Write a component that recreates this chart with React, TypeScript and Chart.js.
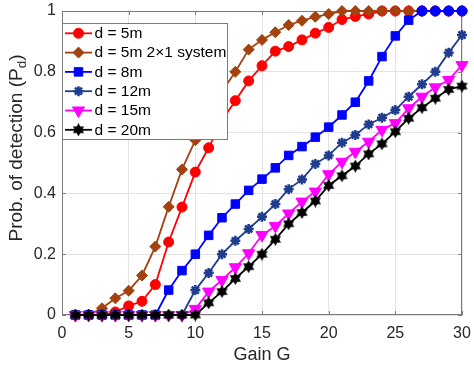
import React, { useEffect, useRef } from 'react';
import { Chart, registerables } from 'chart.js';
import { drawPoint } from 'chart.js/helpers';

Chart.register(...registerables);

// ---------- data ----------
const gain = [1, 2, 3, 4, 5, 6, 7, 8, 9, 10, 11, 12, 13, 14, 15, 16, 17, 18, 19, 20, 21, 22, 23, 24, 25, 26, 27, 28, 29, 30];

const pd5m = [0, 0, 0, 0.01, 0.03, 0.045, 0.1, 0.24, 0.355, 0.47, 0.55, 0.64, 0.705, 0.77, 0.82, 0.868, 0.883, 0.905, 0.927, 0.946, 0.972, 0.982, 0.99, 1, 1, 1, 1, 1, 1, 1];
const pd5m2x1 = [0, 0, 0.022, 0.055, 0.08, 0.13, 0.225, 0.356, 0.479, 0.575, 0.66, 0.735, 0.8, 0.873, 0.905, 0.93, 0.954, 0.968, 0.981, 0.99, 1, 1, 1, 1, 1, 1, 1, 1, 1, 1];
const pd8m = [0, 0, 0, 0, 0, 0, 0, 0.082, 0.146, 0.2, 0.262, 0.32, 0.365, 0.41, 0.447, 0.484, 0.525, 0.554, 0.585, 0.618, 0.658, 0.7, 0.77, 0.85, 0.918, 0.97, 1, 1, 1, 1];
const pd12m = [0, 0, 0, 0, 0, 0, 0, 0, 0, 0.082, 0.138, 0.2, 0.244, 0.283, 0.323, 0.365, 0.414, 0.446, 0.497, 0.525, 0.567, 0.592, 0.627, 0.649, 0.674, 0.718, 0.759, 0.8, 0.863, 0.921];
const pd15m = [0, 0, 0, 0, 0, 0, 0, 0, 0, 0.02, 0.077, 0.115, 0.157, 0.203, 0.263, 0.293, 0.334, 0.373, 0.406, 0.463, 0.504, 0.537, 0.57, 0.609, 0.631, 0.68, 0.718, 0.749, 0.773, 0.822];
const pd20m = [0, 0, 0, 0, 0, 0, 0, 0, 0, 0, 0.04, 0.077, 0.12, 0.159, 0.2, 0.249, 0.3, 0.337, 0.375, 0.426, 0.458, 0.49, 0.53, 0.563, 0.603, 0.647, 0.682, 0.713, 0.742, 0.753];

const seriesLabels = ['d = 5m', 'd = 5m 2\u00d71 system', 'd = 8m', 'd = 12m', 'd = 15m', 'd = 20m'];
const seriesValues = [pd5m, pd5m2x1, pd8m, pd12m, pd15m, pd20m];

const xTicks = [0, 5, 10, 15, 20, 25, 30];
const yTicks = [0, 0.2, 0.4, 0.6, 0.8, 1];
const yTickLabels = ['0', '0.2', '0.4', '0.6', '0.8', '1'];

const xTitle = 'Gain G';
const yTitleMain = 'Prob. of detection (P';
const yTitleSub = 'd';
const yTitleEnd = ')';

// ---------- styles ----------
const FONT = "'Liberation Sans', Arial, Helvetica, sans-serif";
const seriesColors = ['#ff0000', '#a3420f', '#0000ff', '#1f3c8f', '#ff00ff', '#000000'];
const AXIS_COLOR = '#7a7a7a';
const TEXT_COLOR = '#262626';

function makeHexagram(size: number, color: string): HTMLCanvasElement {
  const c = document.createElement('canvas');
  c.width = size;
  c.height = size;
  const g = c.getContext('2d')!;
  const r = size / 2;
  g.fillStyle = color;
  for (const off of [0, Math.PI]) {
    g.beginPath();
    for (let k = 0; k < 3; k++) {
      const a = off - Math.PI / 2 + (k * 2 * Math.PI) / 3;
      const px = r + r * Math.cos(a);
      const py = r + r * Math.sin(a);
      if (k === 0) g.moveTo(px, py);
      else g.lineTo(px, py);
    }
    g.closePath();
    g.fill();
  }
  return c;
}

const boxPlugin = {
  id: 'matlabBox',
  beforeDatasetsDraw(chart: any) {
    const { ctx, chartArea } = chart;
    const { left, right, top, bottom } = chartArea;
    const xs = chart.scales.x;
    const ys = chart.scales.y;
    ctx.save();
    ctx.strokeStyle = AXIS_COLOR;
    ctx.lineWidth = 1;
    ctx.strokeRect(left + 0.5, top + 0.5, right - left - 1, bottom - top - 1);
    ctx.beginPath();
    const tl = 4;
    for (const v of xTicks) {
      const px = Math.round(xs.getPixelForValue(v)) + 0.5;
      ctx.moveTo(px, bottom);
      ctx.lineTo(px, bottom - tl);
      ctx.moveTo(px, top);
      ctx.lineTo(px, top + tl);
    }
    for (const v of yTicks) {
      const py = Math.round(ys.getPixelForValue(v)) + 0.5;
      ctx.moveTo(left, py);
      ctx.lineTo(left + tl, py);
      ctx.moveTo(right, py);
      ctx.lineTo(right - tl, py);
    }
    ctx.stroke();
    ctx.restore();
  },
};

const yTitlePlugin = {
  id: 'yTitleSub',
  afterDraw(chart: any) {
    const { ctx } = chart;
    ctx.save();
    const mainFont = `19px ${FONT}`;
    const subFont = `13.5px ${FONT}`;
    ctx.font = mainFont;
    const w1 = ctx.measureText(yTitleMain).width;
    const w3 = ctx.measureText(yTitleEnd).width;
    ctx.font = subFont;
    const w2 = ctx.measureText(yTitleSub).width;
    const total = w1 + w2 + w3;
    const cx = 22;
    const cy = 148;
    ctx.translate(cx, cy);
    ctx.rotate(-Math.PI / 2);
    ctx.fillStyle = TEXT_COLOR;
    ctx.textBaseline = 'alphabetic';
    ctx.textAlign = 'left';
    let x = -total / 2;
    ctx.font = mainFont;
    ctx.fillText(yTitleMain, x, 0);
    x += w1;
    ctx.font = subFont;
    ctx.fillText(yTitleSub, x, 4);
    x += w2;
    ctx.font = mainFont;
    ctx.fillText(yTitleEnd, x, 0);
    ctx.restore();
  },
};

const legendPlugin = {
  id: 'boxLegend',
  afterDatasetsDraw(chart: any) {
    const { ctx } = chart;
    const bx = 62, by = 23, bw = 166, bh = 117;
    ctx.save();
    ctx.fillStyle = '#ffffff';
    ctx.fillRect(bx, by, bw, bh);
    ctx.strokeStyle = AXIS_COLOR;
    ctx.lineWidth = 1;
    ctx.strokeRect(bx + 0.5, by + 0.5, bw - 1, bh - 1);
    const rowH = 19.3;
    const firstY = 33.3;
    chart.data.datasets.forEach((ds: any, i: number) => {
      const y = firstY + i * rowH;
      ctx.strokeStyle = ds.borderColor;
      ctx.lineWidth = ds.borderWidth;
      ctx.beginPath();
      ctx.moveTo(65, y);
      ctx.lineTo(92, y);
      ctx.stroke();
      ctx.fillStyle = ds.pointBackgroundColor;
      ctx.strokeStyle = ds.pointBorderColor;
      ctx.lineWidth = ds.pointBorderWidth;
      drawPoint(ctx, {
        pointStyle: ds.legendPointStyle,
        rotation: ds.pointRotation || 0,
        radius: ds.pointRadius,
        borderWidth: ds.pointBorderWidth,
      }, 78.5, y);
      ctx.fillStyle = '#000000';
      ctx.font = `15.5px ${FONT}`;
      ctx.textBaseline = 'middle';
      ctx.textAlign = 'left';
      ctx.fillText(seriesLabels[i], 94.5, y + 0.5);
    });
    ctx.restore();
  },
};

export default function App() {
  const ref = useRef<HTMLCanvasElement | null>(null);

  useEffect(() => {
    const canvas = ref.current;
    if (!canvas) return;
    const hex = makeHexagram(13, seriesColors[5]);
    const styles: any[] = [
      { legendPointStyle: 'circle', pointStyle: 'circle', pointRadius: 5, pointRotation: 0, pointBorderWidth: 1 },
      { legendPointStyle: 'rectRot', pointStyle: 'rectRot', pointRadius: 5.5, pointRotation: 0, pointBorderWidth: 1 },
      {
        legendPointStyle: 'rect',
        pointStyle: (c: any) => (c.raw && c.raw.y >= 1 ? 'circle' : 'rect'),
        pointRadius: (c: any) => (c.raw && c.raw.y >= 1 ? 5 : 6),
        pointRotation: 0,
        pointBorderWidth: 1,
      },
      { legendPointStyle: 'star', pointStyle: 'star', pointRadius: 5, pointRotation: 0, pointBorderWidth: 2.5 },
      { legendPointStyle: 'triangle', pointStyle: 'triangle', pointRadius: 7, pointRotation: 180, pointBorderWidth: 1 },
      { legendPointStyle: hex, pointStyle: hex, pointRadius: 6, pointRotation: 0, pointBorderWidth: 0 },
    ];
    const datasets = seriesValues.map((vals, i) => ({
      label: seriesLabels[i],
      data: gain.map((g, k) => ({ x: g, y: vals[k] })),
      borderColor: seriesColors[i],
      backgroundColor: seriesColors[i],
      pointBackgroundColor: seriesColors[i],
      pointBorderColor: seriesColors[i],
      borderWidth: 1.8,
      ...styles[i],
      pointHoverRadius: styles[i].pointRadius,
      tension: 0,
      clip: false,
      order: seriesValues.length - i,
    }));
    // legend needs a numeric radius for the d = 8m square
    (datasets[2] as any).legendRadius = 6;

    const legendFix = {
      id: 'legendRadiusFix',
      beforeDatasetsDraw() {},
    };

    const chart = new Chart(canvas, {
      type: 'line',
      data: { datasets: datasets as any },
      options: {
        animation: false,
        responsive: false,
        devicePixelRatio: 1,
        layout: { padding: { top: 11, right: 12, left: 0, bottom: 0 } },
        plugins: { legend: { display: false }, tooltip: { enabled: false } },
        scales: {
          x: {
            type: 'linear',
            min: 0,
            max: 30,
            afterBuildTicks: (s: any) => { s.ticks = xTicks.map((v) => ({ value: v })); },
            afterFit: (s: any) => { s.height = 51; s.paddingLeft = 0; s.paddingRight = 0; },
            ticks: { color: TEXT_COLOR, font: { family: FONT, size: 16 }, padding: 9, maxRotation: 0 },
            grid: { color: '#e3e3e3', drawTicks: false },
            border: { display: false },
            title: { display: true, text: xTitle, color: TEXT_COLOR, font: { family: FONT, size: 18 }, padding: { top: 0, bottom: 0 } },
          },
          y: {
            type: 'linear',
            min: 0,
            max: 1,
            afterBuildTicks: (s: any) => { s.ticks = yTicks.map((v) => ({ value: v })); },
            afterFit: (s: any) => { s.width = 62; s.paddingTop = 0; s.paddingBottom = 0; },
            ticks: {
              color: TEXT_COLOR,
              font: { family: FONT, size: 16 },
              padding: 6,
              callback: (v: any) => {
                const idx = yTicks.findIndex((t) => Math.abs(t - Number(v)) < 1e-9);
                return idx >= 0 ? yTickLabels[idx] : '';
              },
            },
            grid: { color: '#e3e3e3', drawTicks: false },
            border: { display: false },
          },
        },
      },
      plugins: [boxPlugin, {
        ...legendPlugin,
        afterDatasetsDraw(c: any) {
          // temporarily expose numeric radii for the legend
          const saved = c.data.datasets.map((d: any) => d.pointRadius);
          c.data.datasets.forEach((d: any) => {
            if (typeof d.pointRadius === 'function') d.pointRadius = d.legendRadius;
          });
          legendPlugin.afterDatasetsDraw(c);
          c.data.datasets.forEach((d: any, i: number) => { d.pointRadius = saved[i]; });
        },
      }, yTitlePlugin, legendFix],
    });
    return () => chart.destroy();
  }, []);

  return (
    <div style={{ position: 'absolute', left: 0, top: 0, width: 474, height: 366, background: '#ffffff' }}>
      <canvas ref={ref} width={474} height={366} style={{ display: 'block' }} />
    </div>
  );
}
